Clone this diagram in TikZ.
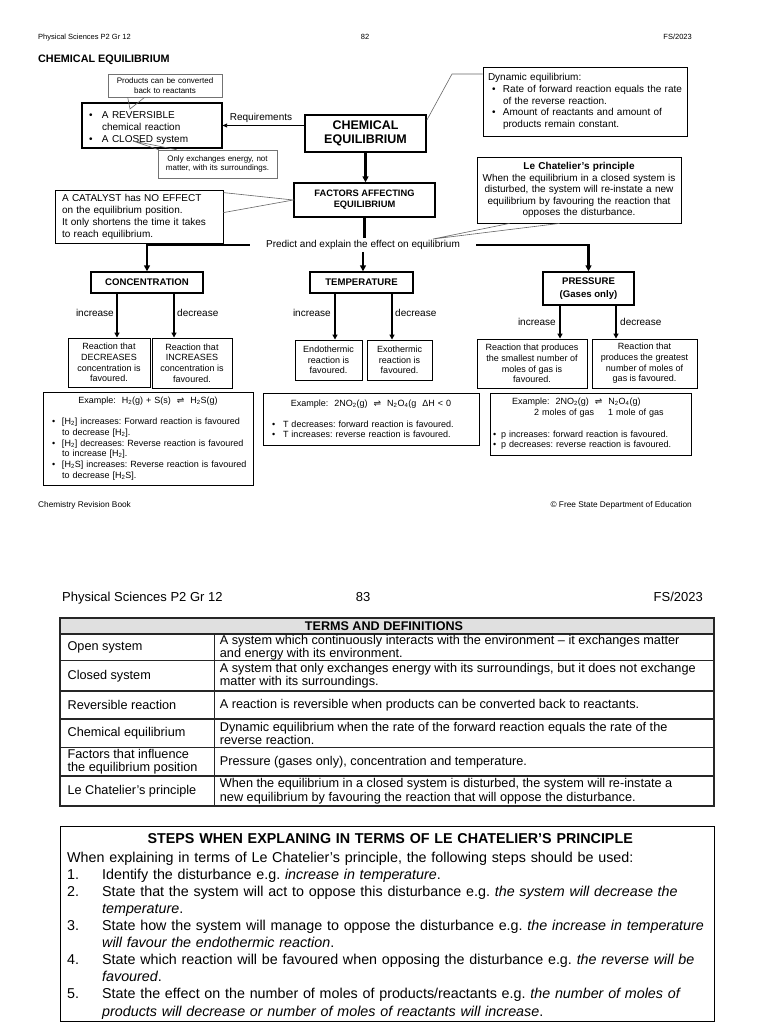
\documentclass[tikz,border=0pt]{standalone}
\usepackage{fontspec}
\setmainfont{Liberation Sans}
\newfontfamily\dvs{DejaVu Sans}
\usetikzlibrary{arrows.meta,calc}
\newcommand\fsz[2]{\fontsize{#1}{#2}\selectfont}
\newcommand\bul[3]{\par\hangindent=#2\hangafter=1\noindent\makebox[#2][l]{\hspace*{#1}\textbullet}#3\par}
\newcommand\stp[2]{\par\hangindent=35pt\hangafter=1\noindent\makebox[35pt][l]{#1}#2\par}
\newcommand\eqq{{\dvs ⇌}}
\newcommand\sbs[1]{\textsubscript{#1}}
\begin{document}
\frenchspacing
\hyphenpenalty=10000
\exhyphenpenalty=10000
\begin{tikzpicture}[x=1pt,y=-1pt,
  box/.style={draw, line width=1pt, inner sep=0pt, align=center},
  mainbox/.style={box, line width=1.4pt},
  cbox/.style={draw=black!55, line width=0.6pt, inner sep=0pt, align=center, font={\fsz{8}{9.5}}},
  callline/.style={draw=black!60, line width=0.6pt},
  rbox/.style={box, line width=0.9pt, font={\fsz{9}{10.7}}},
  ebox/.style={box, line width=0.9pt, align=left, font={\fsz{9}{10.7}}},
  lbl/.style={inner sep=0pt, font={\fsz{10}{12}}},
  arr/.style={line width=2.2pt, -{Triangle[length=6pt,width=6pt]}},
  arrb/.style={line width=1.6pt, -{Triangle[length=5pt,width=5pt]}},
  tx/.style={inner sep=0pt, align=left, font={\fsz{12.7}{13.1}}},
  tl/.style={line width=1.1pt, draw=black!85}
]
\fill[white] (0,0) rectangle (768,1024);
\useasboundingbox (0,0) rectangle (768,1024);

% ---------------- page 82 ----------------
\node[anchor=base west, inner sep=0pt, font={\fsz{7.5}{9}}] (h1l) at (38,40) {Physical Sciences P2 Gr 12};
\node[anchor=base, inner sep=0pt, font={\fsz{7.5}{9}}] (h1c) at (365,40) {82};
\node[anchor=base east, inner sep=0pt, font={\fsz{7.5}{9}}] (h1r) at (692,40) {FS/2023};
\node[anchor=base west, inner sep=0pt, font={\fsz{10.8}{12}\bfseries}] (title1) at (38,63) {CHEMICAL EQUILIBRIUM};

\node[cbox, minimum width=114, minimum height=23, text width=110] (prod) at (165,85.5)
  {Products can be converted\\back to reactants};
\node[box, line width=1.2pt, minimum width=140, minimum height=45, text width=134, align=left, font={\fsz{10}{12}}] (rev) at (152,125.5)
  {\bul{4pt}{17pt}{A REVERSIBLE\newline chemical reaction}\bul{4pt}{17pt}{A CLOSED system}};
\node[cbox, minimum width=119, minimum height=28, text width=115] (only) at (217.5,164)
  {Only exchanges energy, not\\matter, with its surroundings.};
\coordinate (prodtip) at (130,109);
\draw[callline] ($(prod.south west)+(20,0)$) -- (prodtip) -- ($(prod.south west)+(37,0)$);
\coordinate (onlytip) at (133,141);
\draw[callline] ($(only.north west)+(1,0)$) -- (onlytip) -- ($(only.north west)+(19,0)$);

\node[mainbox, line width=1.5pt, minimum width=121, minimum height=37, font={\fsz{12.5}{14.5}\bfseries}] (chem) at (365.5,133.5)
  {CHEMICAL\\EQUILIBRIUM};
\draw[line width=0.8pt, -{Triangle[length=4.5pt,width=4pt]}] (chem.west |- rev.east) -- (rev.east);
\node[lbl] (req) at (261,117.5) {Requirements};

\node[box, line width=0.8pt, minimum width=204, minimum height=69, text width=194, align=left, font={\fsz{10}{11.8}}] (dyn) at (585,101.5)
  {\noindent Dynamic equilibrium:\bul{4pt}{15pt}{Rate of forward reaction equals the rate\newline of the reverse reaction.}\bul{4pt}{15pt}{Amount of reactants and amount of\newline products remain constant.}};
\coordinate (dynbend) at (452,74);
\coordinate (dyntip) at ($(chem.north east)+(0,6)$);
\draw[callline] (dyn.west |- dynbend) -- (dynbend) -- (dyntip);

\node[mainbox, minimum width=141, minimum height=34, font={\fsz{9.3}{11}\bfseries}] (fac) at (364.5,200)
  {FACTORS AFFECTING\\EQUILIBRIUM};
\draw[arr] (chem.south) -- (chem.south |- fac.north);

\node[box, line width=0.8pt, minimum width=168, minimum height=53, text width=154, align=left, font={\fsz{10}{12}}] (cat) at (139,216.5)
  {A CATALYST has NO EFFECT\\on the equilibrium position.\\It only shortens the time it takes\\to reach equilibrium.};
\draw[callline] ($(cat.north east)+(0,3)$) -- (fac.west) -- ($(cat.north east)+(0,23)$);

\node[box, line width=0.8pt, minimum width=204, minimum height=66, text width=198, font={\fsz{10}{11.5}}] (lc) at (579,190)
  {\textbf{Le Chatelier’s principle}\\When the equilibrium in a closed system is\\disturbed, the system will re-instate a new\\equilibrium by favouring the reaction that\\opposes the disturbance.};
\coordinate (lctip) at (433,239);
\draw[callline] ($(lc.south west)+(33,0)$) -- (lctip) -- ($(lc.south west)+(83,0)$);

\node[inner xsep=16pt, inner ysep=2pt, font={\fsz{10}{12}}] (pred) at (363,245) {Predict and explain the effect on equilibrium};
\draw[line width=2.2pt] (fac.south) -- (fac.south |- pred.north);

\node[mainbox, minimum width=112, minimum height=21, font={\fsz{9.6}{11}\bfseries}] (conc) at (147,282.5) {CONCENTRATION};
\node[mainbox, minimum width=103, minimum height=21, font={\fsz{9.6}{11}\bfseries}] (temp) at (361.5,282.5) {TEMPERATURE};
\node[mainbox, minimum width=91, minimum height=33, font={\fsz{9.6}{13}\bfseries}] (pres) at (588.5,288.5) {PRESSURE\\(Gases only)};

\draw[arr] (pred.west) -| (conc.north);
\draw[arr] (pred.east) -| (pres.north);
\draw[arr] (pred.south) -- (pred.south |- temp.north);

\node[rbox, minimum width=82, minimum height=49] (c1) at (109,362.5) {Reaction that\\DECREASES\\concentration is\\favoured.};
\node[rbox, minimum width=80, minimum height=50] (c2) at (192,363) {Reaction that\\INCREASES\\concentration is\\favoured.};
\node[rbox, minimum width=67, minimum height=40] (t1) at (328.5,360) {Endothermic\\reaction is\\favoured.};
\node[rbox, minimum width=65, minimum height=40] (t2) at (399.5,360) {Exothermic\\reaction is\\favoured.};
\node[rbox, minimum width=110, minimum height=49] (p1) at (532,363.5) {Reaction that produces\\the smallest number of\\moles of gas is\\favoured.};
\node[rbox, minimum width=105, minimum height=49] (p2) at (644.5,363.5) {Reaction that\\produces the greatest\\number of moles of\\gas is favoured.};

\coordinate (ci) at ($(conc.south)+(-30,0)$);
\coordinate (cd) at ($(conc.south)+(27,0)$);
\draw[arrb] (ci) -- (ci |- c1.north);
\draw[arrb] (cd) -- (cd |- c2.north);
\node[lbl, anchor=east] (lci) at (114,313) {increase};
\node[lbl, anchor=west] (lcd) at (177,313) {decrease};

\coordinate (ti) at ($(temp.south)+(-26.5,0)$);
\coordinate (td) at ($(temp.south)+(30.5,0)$);
\draw[arrb] (ti) -- (ti |- t1.north);
\draw[arrb] (td) -- (td |- t2.north);
\node[lbl, anchor=east] (lti) at (331,313) {increase};
\node[lbl, anchor=west] (ltd) at (395,313) {decrease};

\coordinate (pi) at ($(pres.south)+(-28.5,0)$);
\coordinate (pd) at ($(pres.south)+(27.5,0)$);
\draw[arrb] (pi) -- (pi |- p1.north);
\draw[arrb] (pd) -- (pd |- p2.north);
\node[lbl, anchor=east] (lpi) at (556,322) {increase};
\node[lbl, anchor=west] (lpd) at (620,322) {decrease};

\node[ebox, minimum width=210, minimum height=93, text width=202] (cex) at (148,438.5)
  {{\centering Example:\ \ H\sbs{2}(g) + S(s)\ \ \eqq\ \ H\sbs{2}S(g)\par}\vspace{10.7pt}%
   \bul{5pt}{15pt}{[H\sbs{2}] increases: Forward reaction is favoured\newline to decrease [H\sbs{2}].}%
   \bul{5pt}{15pt}{[H\sbs{2}] decreases: Reverse reaction is favoured\newline to increase [H\sbs{2}].}%
   \bul{5pt}{15pt}{[H\sbs{2}S] increases: Reverse reaction is favoured\newline to decrease [H\sbs{2}S].}};
\node[ebox, minimum width=216, minimum height=52, text width=208] (tex) at (371,419)
  {{\centering Example:\ \ 2NO\sbs{2}(g)\ \ \eqq\ \ N\sbs{2}O\sbs{4}(g\ \ ΔH < 0\par}\vspace{10pt}%
   \bul{5pt}{16pt}{T decreases: forward reaction is favoured.}%
   \bul{5pt}{16pt}{T increases: reverse reaction is favoured.}};
\node[ebox, minimum width=201, minimum height=62, text width=197] (pex) at (590.5,424)
  {\noindent\hspace*{20pt}Example:\ \ 2NO\sbs{2}(g)\ \ \eqq\ \ N\sbs{2}O\sbs{4}(g)\par
   \noindent\hspace*{42pt}2 moles of gas\hspace{14pt}1 mole of gas\par\vspace{11pt}%
   \bul{1pt}{9pt}{p increases: forward reaction is favoured.}%
   \bul{1pt}{9pt}{p decreases: reverse reaction is favoured.}};

\node[anchor=base west, inner sep=0pt, font={\fsz{8.3}{10}}] (f1l) at (38,507) {Chemistry Revision Book};
\node[anchor=base east, inner sep=0pt, font={\fsz{8.3}{10}}] (f1r) at (692,507) {© Free State Department of Education};

% ---------------- page 83 ----------------
\node[anchor=base west, inner sep=0pt, font={\fsz{13}{15}}] (h2l) at (62,601) {Physical Sciences P2 Gr 12};
\node[anchor=base, inner sep=0pt, font={\fsz{13}{15}}] (h2c) at (363,601) {83};
\node[anchor=base east, inner sep=0pt, font={\fsz{13}{15}}] (h2r) at (703,601) {FS/2023};

\fill[black!12] (60,618) rectangle (714,634);
\draw[tl] (60,618) rectangle (714,806);
\foreach \yy in {634,660.5,691,719,747.5,776} \draw[tl] (60,\yy) -- (714,\yy);
\draw[tl] (214.4,634) -- (214.4,806);
\node[inner sep=0pt, font={\fsz{12.6}{14}\bfseries}] (tt) at (384,626.5) {TERMS AND DEFINITIONS};

\node[tx, anchor=west] (k1) at (67.4,647.5) {Open system};
\node[tx, anchor=west] (d1) at (219.7,647.5) {A system which continuously interacts with the environment – it exchanges matter\\and energy with its environment.};
\node[tx, anchor=west] (k2) at (67.4,675.9) {Closed system};
\node[tx, anchor=west] (d2) at (219.7,675.9) {A system that only exchanges energy with its surroundings, but it does not exchange\\matter with its surroundings.};
\node[tx, anchor=west] (k3) at (67.4,705) {Reversible reaction};
\node[tx, anchor=west] (d3) at (219.7,705) {A reaction is reversible when products can be converted back to reactants.};
\node[tx, anchor=west] (k4) at (67.4,733.4) {Chemical equilibrium};
\node[tx, anchor=west] (d4) at (219.7,733.4) {Dynamic equilibrium when the rate of the forward reaction equals the rate of the\\reverse reaction.};
\node[tx, anchor=west] (k5) at (67.4,761.9) {Factors that influence\\the equilibrium position};
\node[tx, anchor=west] (d5) at (219.7,761.9) {Pressure (gases only), concentration and temperature.};
\node[tx, anchor=west] (k6) at (67.4,791.2) {Le Chatelier’s principle};
\node[tx, anchor=west] (d6) at (219.7,791.2) {When the equilibrium in a closed system is disturbed, the system will re-instate a\\new equilibrium by favouring the reaction that will oppose the disturbance.};

\node[draw, line width=1.2pt, minimum width=654, minimum height=195, anchor=north west, inner sep=0pt] (steps) at (60,826) {};
\node[anchor=base west, inner sep=0pt, text width=646, align=left, font={\fsz{14.3}{17.1}}] (stepstxt) at (67,843.5)
  {{\centering\fsz{14.3}{17}\bfseries STEPS WHEN EXPLANING IN TERMS OF LE CHATELIER’S PRINCIPLE\par}%
   \vspace{1.5pt}%
   \noindent When explaining in terms of Le Chatelier’s principle, the following steps should be used:\par
   \stp{1.}{Identify the disturbance e.g. \textit{increase in temperature}.}%
   \stp{2.}{State that the system will act to oppose this disturbance e.g. \textit{the system will decrease the}\newline\textit{temperature}.}%
   \stp{3.}{State how the system will manage to oppose the disturbance e.g. \textit{the increase in temperature}\newline\textit{will favour the endothermic reaction}.}%
   \stp{4.}{State which reaction will be favoured when opposing the disturbance e.g. \textit{the reverse will be}\newline\textit{favoured}.}%
   \stp{5.}{State the effect on the number of moles of products/reactants e.g. \textit{the number of moles of}\newline\textit{products will decrease or number of moles of reactants will increase}.}};
\end{tikzpicture}
\end{document}
